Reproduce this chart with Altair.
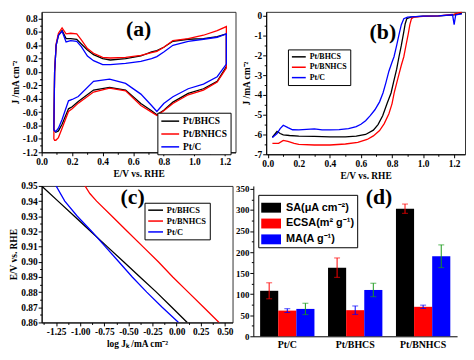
import altair as alt
import pandas as pd

SERIF = "Liberation Serif"
SANS = "Liberation Sans"
SERIES = ["Pt/BHCS", "Pt/BNHCS", "Pt/C"]
SERIES_COLORS = ["#000000", "#ff0000", "#0000ff"]

# ---------------- (a) cyclic voltammograms ----------------
cv_up_x = [0.08, 0.085, 0.095, 0.11, 0.134, 0.16, 0.19, 0.23, 0.26, 0.30, 0.34, 0.40,
           0.45, 0.55, 0.65, 0.72, 0.755, 0.80, 0.86, 0.96, 1.06, 1.15, 1.21]
cv_up_bhcs = [-0.85, 0.0, 0.4, 0.55, 0.62, 0.5, 0.5, 0.49, 0.42, 0.33, 0.26, 0.2,
              0.18, 0.2, 0.24, 0.3, 0.32, 0.37, 0.46, 0.49, 0.5, 0.53, 0.57]
cv_up_bnhcs = [-1.0, 0.0, 0.42, 0.58, 0.66, 0.57, 0.58, 0.57, 0.48, 0.35, 0.28, 0.22,
               0.21, 0.22, 0.25, 0.29, 0.31, 0.37, 0.47, 0.5, 0.55, 0.62, 0.68]
cv_up_ptc = [-0.87, 0.0, 0.4, 0.55, 0.61, 0.45, 0.47, 0.46, 0.38, 0.24, 0.17, 0.11,
             0.11, 0.13, 0.16, 0.2, 0.23, 0.3, 0.4, 0.46, 0.49, 0.52, 0.57]
cv_low_x = [1.21, 1.15, 1.06, 0.96, 0.86, 0.80, 0.755, 0.72, 0.65, 0.55, 0.445, 0.34,
            0.24, 0.20, 0.176, 0.134, 0.11, 0.093, 0.085, 0.08]
cv_low_bhcs = [0.08, -0.14, -0.25, -0.32, -0.45, -0.57, -0.64, -0.58, -0.47, -0.27, -0.23, -0.27,
               -0.44, -0.52, -0.55, -0.78, -0.88, -0.9, -0.88, -0.85]
cv_low_bnhcs = [0.06, -0.15, -0.27, -0.34, -0.47, -0.58, -0.65, -0.6, -0.5, -0.28, -0.24, -0.3,
                -0.465, -0.55, -0.59, -0.84, -0.98, -1.02, -1.02, -1.0]
cv_low_ptc = [0.12, -0.07, -0.18, -0.25, -0.37, -0.47, -0.59, -0.5, -0.33, -0.17, -0.107, -0.14,
              -0.366, -0.41, -0.43, -0.71, -0.84, -0.887, -0.88, -0.87]

# ---------------- (b) LSV polarisation curves ----------------
lsv_x_bhcs = [0.03, 0.06, 0.08, 0.10, 0.14, 0.2, 0.3, 0.4, 0.5, 0.57, 0.63, 0.68, 0.71, 0.74,
              0.77, 0.794, 0.81, 0.83, 0.845, 0.86, 0.875, 0.885, 0.895, 0.92, 0.96, 1.0,
              1.1, 1.2, 1.25]
lsv_y_bhcs = [-6.14, -5.84, -5.95, -6.02, -6.05, -6.08, -6.1, -6.12, -6.12, -6.08, -6.0, -5.78,
              -5.5, -5.05, -4.4, -3.9, -3.35, -2.7, -2.07, -1.5, -0.85, -0.4, -0.15, -0.07,
              -0.04, -0.02, 0.0, 0.05, 0.12]
lsv_x_bnhcs = [0.03, 0.07, 0.10, 0.13, 0.17, 0.2, 0.3, 0.4, 0.5, 0.58, 0.64, 0.68, 0.72, 0.75,
               0.78, 0.80, 0.814, 0.83, 0.845, 0.86, 0.876, 0.89, 0.905, 0.915, 0.925, 0.94,
               1.0, 1.1, 1.2, 1.25]
lsv_y_bnhcs = [-6.45, -6.45, -6.3, -6.35, -6.45, -6.5, -6.53, -6.53, -6.48, -6.4, -6.25, -6.07,
               -5.8, -5.45, -4.95, -4.45, -3.9, -3.4, -2.95, -2.5, -2.07, -1.5, -0.9, -0.45,
               -0.15, -0.07, -0.03, 0.0, 0.08, 0.2]
lsv_x_ptc = [0.03, 0.06, 0.08, 0.10, 0.13, 0.16, 0.2, 0.25, 0.3, 0.35, 0.4, 0.46, 0.52, 0.57,
             0.60, 0.63, 0.66, 0.69, 0.72, 0.742, 0.76, 0.78, 0.80, 0.813, 0.83, 0.845, 0.86,
             0.876, 0.9, 0.95, 1.0, 1.1, 1.19, 1.2, 1.21, 1.25]
lsv_y_ptc = [-6.15, -5.95, -5.7, -5.53, -5.65, -5.76, -5.77, -5.74, -5.72, -5.77, -5.77, -5.75,
             -5.7, -5.6, -5.48, -5.3, -5.05, -4.75, -4.35, -3.9, -3.4, -2.8, -2.35, -2.07,
             -1.5, -0.95, -0.45, -0.15, -0.07, -0.04, -0.02, 0.0, 0.05, -0.45, 0.05, 0.1]

# ---------------- (c) Tafel plots ----------------
tafel_y = [0.95, 0.94, 0.93, 0.92, 0.91, 0.90, 0.89, 0.88, 0.87, 0.86]
tafel_x_bhcs = [-1.40, -1.23, -1.06, -0.89, -0.72, -0.55, -0.38, -0.21, -0.05, 0.11]
tafel_x_ptc = [-1.25, -1.16, -1.03, -0.88, -0.74, -0.60, -0.46, -0.31, -0.15, 0.02]
tafel_y_bnhcs = [0.95, 0.945, 0.94, 0.93, 0.92, 0.91, 0.90, 0.89, 0.88, 0.87, 0.86]
tafel_x_bnhcs = [-0.95, -0.90, -0.83, -0.67, -0.51, -0.35, -0.19, -0.04, 0.12, 0.28, 0.44]

# ---------------- (d) activities ----------------
CATS = ["Pt/C", "Pt/BHCS", "Pt/BNHCS"]
METRICS = ["SA(\u03bcA cm\u207b\u00b2)", "ECSA(m\u00b2 g\u207b\u00b9)", "MA(A g\u207b\u00b9)"]
BAR_COLORS = ["#000000", "#ff0000", "#0000ff"]
ERR_COLORS = ["#ff0000", "#0000ff", "#1a9a1a"]
sa = [108, 163, 303]
sa_err = [19, 23, 11]
ecsa = [61, 62, 70]
ecsa_err = [4.5, 10, 4]
ma = [65, 110, 190]
ma_err = [13.5, 16, 27]


def frame(xs_list, ys_list):
    rows = []
    for s, xs, ys in zip(SERIES, xs_list, ys_list):
        for i, (x, y) in enumerate(zip(xs, ys)):
            rows.append({"catalyst": s, "x": x, "y": y, "i": i})
    return pd.DataFrame(rows)


def num_axis(title, values, majors, fmt, **kw):
    maj = "[" + ",".join(repr(v) for v in majors) + "]"
    minor = f"indexof({maj}, datum.value) < 0"
    return alt.Axis(
        title=title, values=values,
        labelExpr=f"{minor} ? '' : replace(format(datum.value, '{fmt}'), '\u2212', '-')",
        tickSize={"condition": {"test": minor, "value": 2}, "value": 3.5},
        labelOverlap=False, labelFlush=False, grid=False, **kw)


def steps(a, b, st, nd):
    out = []
    k = 0
    while a + k * st <= b + 1e-9:
        out.append(round(a + k * st, nd))
        k += 1
    return out


def line_legend(x, y, fs, size, rowpad):
    return alt.Legend(
        title=None, orient="none", legendX=x, legendY=y,
        fillColor="white", strokeColor="black", padding=3,
        labelFont=SERIF, labelFontWeight="bold", labelFontSize=fs, labelColor="black",
        symbolType="M-1,0H3", symbolSize=size, symbolStrokeWidth=1.5,
        labelOffset=size ** 0.5 + 3, rowPadding=rowpad)


def line_panel(df, xdom, ydom, xaxis, yaxis, w, h, legend, label, lx, ly):
    lines = alt.Chart(df).mark_line(strokeWidth=1.3, clip=True).encode(
        x=alt.X("x:Q", scale=alt.Scale(domain=xdom, nice=False, zero=False), axis=xaxis),
        y=alt.Y("y:Q", scale=alt.Scale(domain=ydom, nice=False, zero=False), axis=yaxis),
        color=alt.Color("catalyst:N", scale=alt.Scale(domain=SERIES, range=SERIES_COLORS),
                        legend=legend),
        order="i:Q")
    txt = alt.Chart(pd.DataFrame({"t": [label]})).mark_text(
        font=SERIF, fontWeight="bold", fontSize=22, align="center", baseline="middle",
        color="black").encode(text="t:N", x=alt.value(lx), y=alt.value(ly))
    return alt.layer(lines, txt).properties(width=w, height=h)


J_TITLE = "J /mA cm\u207b\u00b2"
E_TITLE = "E/V vs. RHE"

# (a)
df_a = frame([cv_up_x + cv_low_x] * 3,
             [cv_up_bhcs + cv_low_bhcs, cv_up_bnhcs + cv_low_bnhcs, cv_up_ptc + cv_low_ptc])
pa = line_panel(
    df_a, [0, 1.27], [-1.2, 0.9],
    num_axis(E_TITLE, steps(0, 1.2, 0.1, 1), steps(0, 1.2, 0.2, 1), ".1f"),
    num_axis(J_TITLE, steps(-1.2, 0.8, 0.1, 1), steps(-1.2, 0.8, 0.2, 1), ".1f"),
    196, 142, line_legend(117, 102, 9.5, 81, 3), "(a)", 98, 17)

# (b)
df_b = frame([lsv_x_bhcs, lsv_x_bnhcs, lsv_x_ptc], [lsv_y_bhcs, lsv_y_bnhcs, lsv_y_ptc])
pb = line_panel(
    df_b, [-0.01, 1.27], [-7, 0.2],
    num_axis(E_TITLE, steps(0, 1.2, 0.1, 1), steps(0, 1.2, 0.2, 1), ".1f"),
    num_axis(J_TITLE, steps(-7, 0, 0.5, 1), steps(-7, 0, 1, 0), "d"),
    201, 144, line_legend(22, 38, 8, 49, 1.5), "(b)", 118, 20)

# (c)
df_c = frame([tafel_x_bhcs, tafel_x_bnhcs, tafel_x_ptc], [tafel_y, tafel_y_bnhcs, tafel_y])
pc = line_panel(
    df_c, [-1.4, 0.58], [0.86, 0.95],
    num_axis("log J\u2096 /mA cm\u207b\u00b2", steps(-1.375, 0.5, 0.125, 3),
             steps(-1.25, 0.5, 0.25, 2), ".2f"),
    num_axis(E_TITLE, steps(0.86, 0.95, 0.005, 3), steps(0.86, 0.95, 0.01, 2), ".2f"),
    193, 138, line_legend(104, 17, 8.5, 56, 2), "(c)", 92, 11)

# (d)
rows = []
for m, vals, errs, ec in zip(METRICS, [sa, ecsa, ma], [sa_err, ecsa_err, ma_err], ERR_COLORS):
    for c, v, e in zip(CATS, vals, errs):
        rows.append({"cat": c, "metric": m, "value": v, "lo": v - e, "hi": v + e, "ecol": ec})
df_d = pd.DataFrame(rows)

X_D = alt.X("cat:N", sort=CATS, scale=alt.Scale(paddingInner=0.2, paddingOuter=0.1),
            axis=alt.Axis(title=None, labelAngle=0, ticks=False, labelFontSize=10,
                          labelPadding=3, domain=True))
XO_D = alt.XOffset("metric:N", sort=METRICS, scale=alt.Scale(paddingInner=0, paddingOuter=0))
Y_SCALE = alt.Scale(domain=[0, 357], nice=False)
Y_AXIS_D = num_axis(None, steps(0, 350, 25, 0), steps(0, 350, 50, 0), "d", labelFontSize=9)
base_d = alt.Chart(df_d)
bars = base_d.mark_bar().encode(
    x=X_D, xOffset=XO_D,
    y=alt.Y("value:Q", scale=Y_SCALE, axis=Y_AXIS_D),
    color=alt.Color("metric:N", scale=alt.Scale(domain=METRICS, range=BAR_COLORS),
                    legend=alt.Legend(
                        title=None, orient="none", legendX=5, legendY=9,
                        fillColor="white", strokeColor="black", padding=3,
                        labelFont=SANS, labelFontWeight="bold", labelFontSize=11,
                        labelColor="black", symbolType="M-1,-0.5H1V0.5H-1Z",
                        symbolSize=400, symbolStrokeWidth=0, labelOffset=5,
                        rowPadding=1)))
err_rule = base_d.mark_rule(strokeWidth=1).encode(
    x=X_D, xOffset=XO_D, y=alt.Y("lo:Q", scale=Y_SCALE, axis=Y_AXIS_D), y2="hi:Q",
    color=alt.Color("ecol:N", scale=None))
cap_lo = base_d.mark_tick(size=6, thickness=1).encode(
    x=X_D, xOffset=XO_D, y=alt.Y("lo:Q", scale=Y_SCALE, axis=Y_AXIS_D),
    color=alt.Color("ecol:N", scale=None))
cap_hi = base_d.mark_tick(size=6, thickness=1).encode(
    x=X_D, xOffset=XO_D, y=alt.Y("hi:Q", scale=Y_SCALE, axis=Y_AXIS_D),
    color=alt.Color("ecol:N", scale=None))
txt_d = alt.Chart(pd.DataFrame({"t": ["(d)"]})).mark_text(
    font=SERIF, fontWeight="bold", fontSize=22, align="center", baseline="middle",
    color="black").encode(text="t:N", x=alt.value(127), y=alt.value(11))
pd_ = alt.layer(bars, err_rule, cap_lo, cap_hi, txt_d).resolve_scale(
    color="independent").properties(
    width=206, height=152, view=alt.ViewBackground(stroke="transparent"))

row1 = alt.hconcat(pa, pb, spacing=5).resolve_scale(color="independent").resolve_legend(
    color="independent")
row2 = alt.hconcat(pc, pd_, spacing=0).resolve_scale(color="independent").resolve_legend(
    color="independent")

chart = alt.vconcat(row1, row2, spacing=0).resolve_scale(color="independent").resolve_legend(
    color="independent").properties(padding=0).configure_axis(
    domainColor="black", domainWidth=1, tickColor="black", tickWidth=1,
    labelFont=SERIF, labelFontWeight="bold", labelFontSize=9.5, labelColor="black",
    titleFont=SERIF, titleFontWeight="bold", titleFontSize=9.5, titleColor="black",
    labelPadding=1, titlePadding=2, grid=False).configure_view(
    stroke="#333333", strokeWidth=1)

chart.save("out.html", embed_options={"renderer": "svg", "actions": False})
